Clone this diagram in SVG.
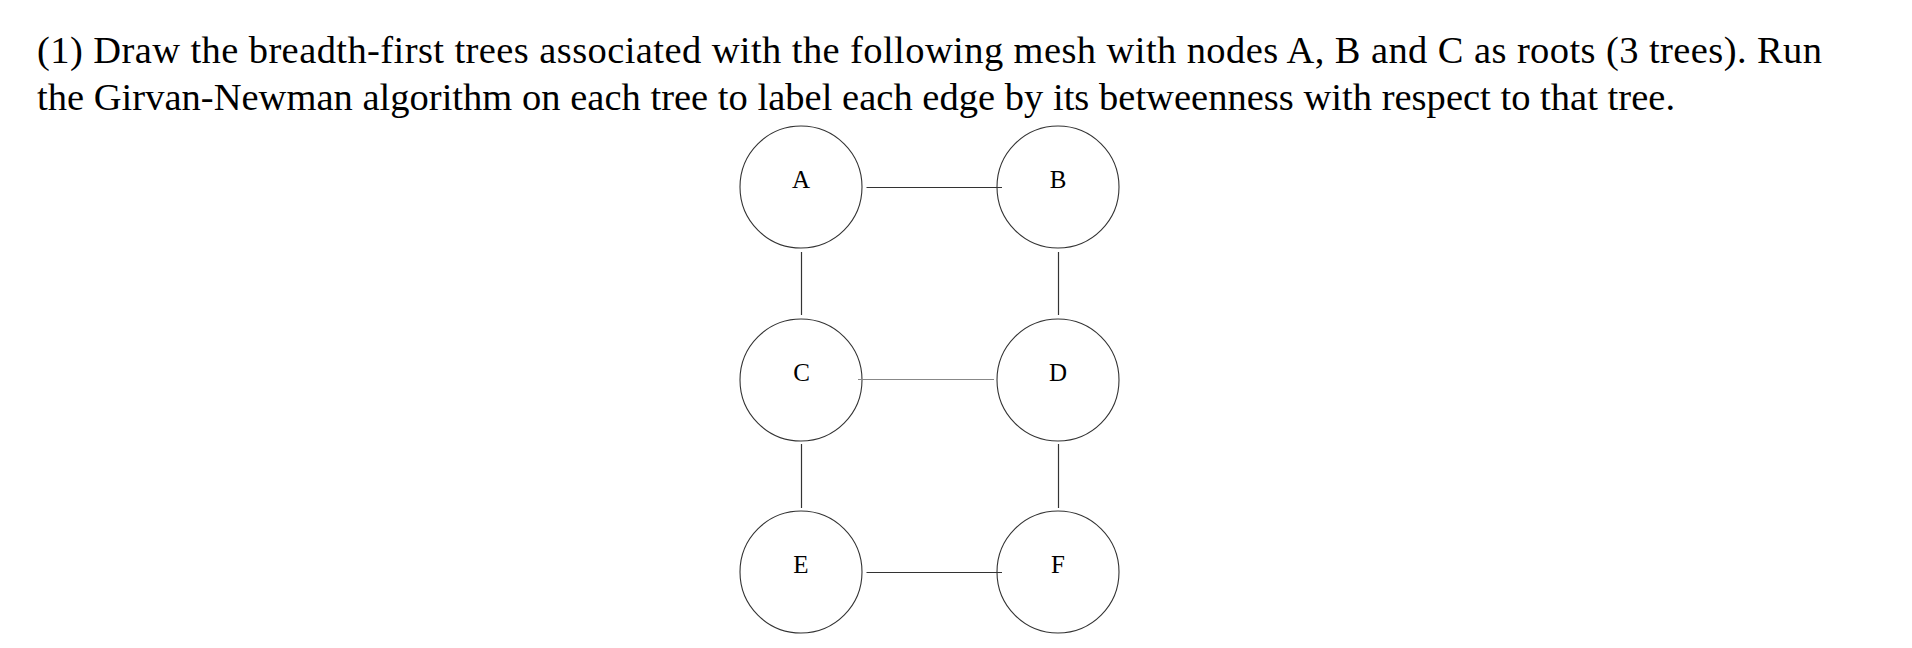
<svg xmlns="http://www.w3.org/2000/svg" width="1912" height="648" viewBox="0 0 1912 648">
<style>
.bg{fill:#fff}
.head{font-family:"Liberation Serif","Times New Roman",serif;font-size:38.5px;fill:#000}
.node circle{fill:#fff;stroke:#333;stroke-width:1.1}
.node text{font-family:"Liberation Serif","Times New Roman",serif;font-size:25px;fill:#000;text-anchor:middle}
.edges line{stroke:#333;stroke-width:1.2}
.edges line.light{stroke:#888}
</style>
<rect class="bg" x="0" y="0" width="1912" height="648"/>
<g id="heading">
<text class="head" x="37" y="63" textLength="1785" lengthAdjust="spacing">(1) Draw the breadth-first trees associated with the following mesh with nodes A, B and C as roots (3 trees).  Run</text>
<text class="head" x="37" y="110" textLength="1638" lengthAdjust="spacing">the Girvan-Newman algorithm on each tree to label each edge by its betweenness with respect to that tree.</text>
</g>
<g id="node-A" class="node"><circle cx="801" cy="187" r="61"/><text x="801" y="187.5">A</text></g>
<g id="node-B" class="node"><circle cx="1058" cy="187" r="61"/><text x="1058" y="188">B</text></g>
<g id="node-C" class="node"><circle cx="801" cy="380" r="61"/><text x="801.5" y="381">C</text></g>
<g id="node-D" class="node"><circle cx="1058" cy="380" r="61"/><text x="1058" y="381">D</text></g>
<g id="node-E" class="node"><circle cx="801" cy="572" r="61"/><text x="801" y="573">E</text></g>
<g id="node-F" class="node"><circle cx="1058" cy="572" r="61"/><text x="1058" y="573">F</text></g>
<g id="connectors" class="edges">
<line x1="866.5" y1="187.5" x2="1002" y2="187.5"/>
<line x1="801.5" y1="252" x2="801.5" y2="315"/>
<line x1="1058.5" y1="252" x2="1058.5" y2="315"/>
<line class="light" x1="858" y1="379.5" x2="994" y2="379.5"/>
<line x1="801.5" y1="444" x2="801.5" y2="508"/>
<line x1="1058.5" y1="444" x2="1058.5" y2="508"/>
<line x1="866.5" y1="572.5" x2="1002" y2="572.5"/>
</g>
</svg>
